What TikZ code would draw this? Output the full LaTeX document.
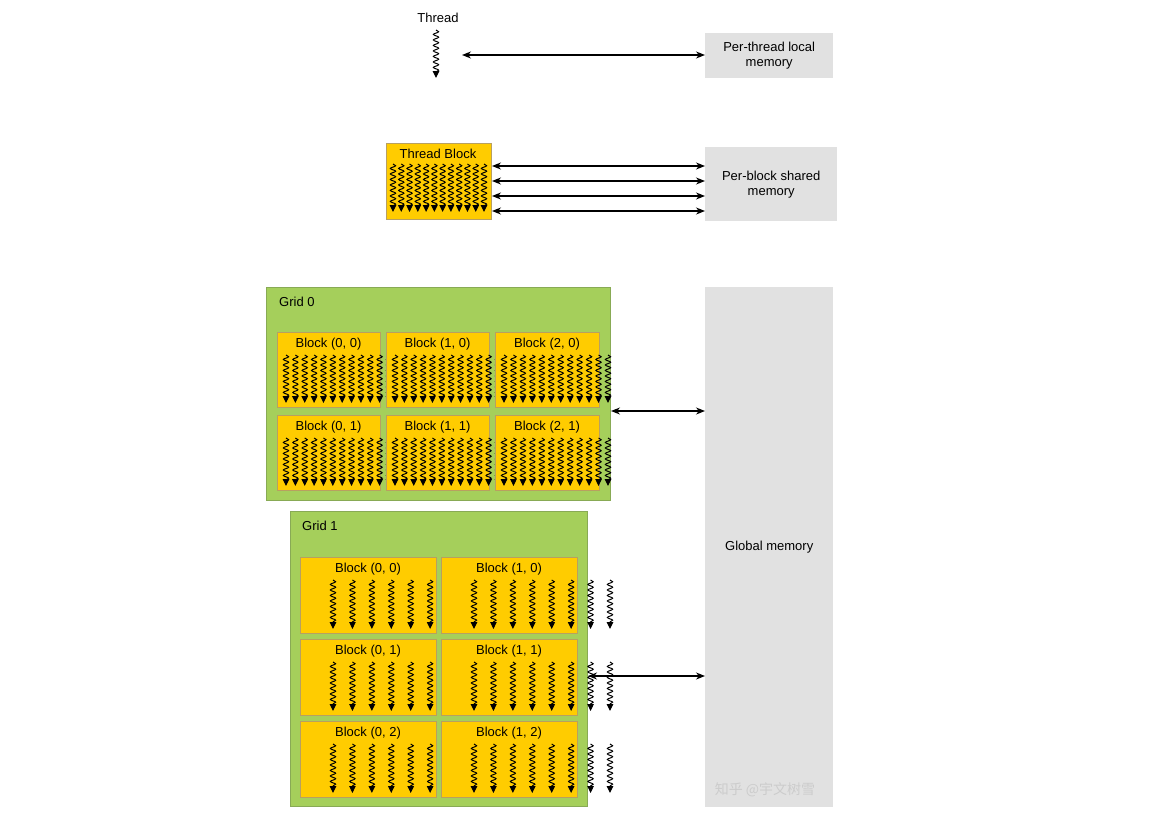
\documentclass[tikz,border=0pt]{standalone}
\usepackage{fontspec}
\setmainfont{Liberation Sans}
\newfontfamily\cjk{Noto Sans CJK SC}
\usetikzlibrary{decorations.pathmorphing,arrows.meta}
\definecolor{yel}{HTML}{FFCC00}
\definecolor{yelb}{HTML}{B8A060}
\definecolor{grn}{HTML}{A5CF5B}
\definecolor{grnb}{HTML}{88AA55}
\definecolor{mem}{HTML}{E1E1E1}
\tikzset{
  blk/.style={fill=yel,draw=yelb,line width=1pt},
  grid/.style={fill=grn,draw=grnb,line width=1pt},
  memb/.style={fill=mem,draw=none},
  lbl/.style={font=\fontsize{13}{13}\selectfont,inner sep=0pt},
  squig/.style={line width=1pt,decorate,decoration={snake,amplitude=2.6pt,segment length=5.5pt,post length=5pt},-{Triangle[length=7pt,width=6.5pt]}},
  dbl/.style={line width=1.3pt,{Stealth[length=9pt,width=7pt]}-{Stealth[length=9pt,width=7pt]}}
}
\newcommand{\squigs}[5]{% x0 x1 ytop ybot n
  \pgfmathsetmacro{\dx}{(#2-#1)/(#5-1)}
  \foreach \k in {1,...,#5}{
    \pgfmathsetmacro{\xx}{#1+(\k-1)*\dx}
    \draw[squig] (\xx,#3) -- (\xx,#4);
  }}
\newcommand{\myblock}[6]{% name x0 y0 x1 y1 label ; n squiggles set via #6
  \node[blk,minimum width={(#4-#2)*1pt},minimum height={(#5-#3)*1pt},inner sep=0pt,anchor=north west] (#1) at (#2,#3) {};
  \node[lbl] at ({(#2+#4)/2},#3+12) {#6};
}
\begin{document}
\begin{tikzpicture}[x=1pt,y=-1pt]
\useasboundingbox (0,0) rectangle (1160,819);
% thread
\node[lbl] (thr) at (438,18) {Thread};
\draw[squig] (436,30) -- (436,78);
\node[memb,minimum width=128pt,minimum height=45pt,anchor=north west,align=center,lbl] (ptl) at (705,33) {Per-thread local\\[2pt]memory};
\coordinate (thrR) at (462,55);
\draw[dbl] (thrR) -- (ptl.west|-thrR);
% thread block
\node[blk,minimum width=105pt,minimum height=76pt,anchor=north west,inner sep=0pt] (tb) at (386,143) {};
\node[lbl] at (438,154) {Thread Block};
\squigs{393}{484}{164}{212}{12}
\node[memb,minimum width=132pt,minimum height=74pt,anchor=north west,align=center,lbl] (pbs) at (705,147) {Per-block shared\\[2pt]memory};
\foreach \yy in {166,181,196,211}{
  \draw[dbl] (tb.east|-0,\yy) -- (pbs.west|-0,\yy);
}
% global memory
\node[memb,minimum width=128pt,minimum height=520pt,anchor=north west,lbl] (gm) at (705,287) {Global memory};
% grid 0
\node[grid,minimum width=344pt,minimum height=213pt,anchor=north west,inner sep=0pt] (g0) at (266,287) {};
\node[lbl,anchor=west] at (279,302) {Grid 0};
\foreach \c/\xa/\xb in {0/277/380,1/386/489,2/495/599}{
  \foreach \r/\ya/\yb in {0/332/407,1/415/490}{
    \myblock{g0b\c\r}{\xa}{\ya}{\xb}{\yb}{Block (\c, \r)}
    \squigs{\xa+9}{\xb-9}{\ya+23}{\yb-4}{12}
  }}
\draw[dbl] (g0.east|-0,411) -- (gm.west|-0,411);
% grid 1
\node[grid,minimum width=297pt,minimum height=295pt,anchor=north west,inner sep=0pt] (g1) at (290,511) {};
\node[lbl,anchor=west] at (302,526) {Grid 1};
\foreach \c/\xa/\xb in {0/300/436,1/441/577}{
  \foreach \r/\ya/\yb in {0/557/633,1/639/715,2/721/797}{
    \myblock{g1b\c\r}{\xa}{\ya}{\xb}{\yb}{Block (\c, \r)}
    \squigs{\xa+33}{\xb-33}{\ya+23}{\yb-4}{8}
  }}
\draw[dbl] (g1.east|-0,676) -- (gm.west|-0,676);
% watermark
\node[font=\cjk\fontsize{14}{14}\selectfont,text=white!60!gray,inner sep=0pt] (wm) at (765,790) {知乎 @宇文树雪};
\end{tikzpicture}
\end{document}
